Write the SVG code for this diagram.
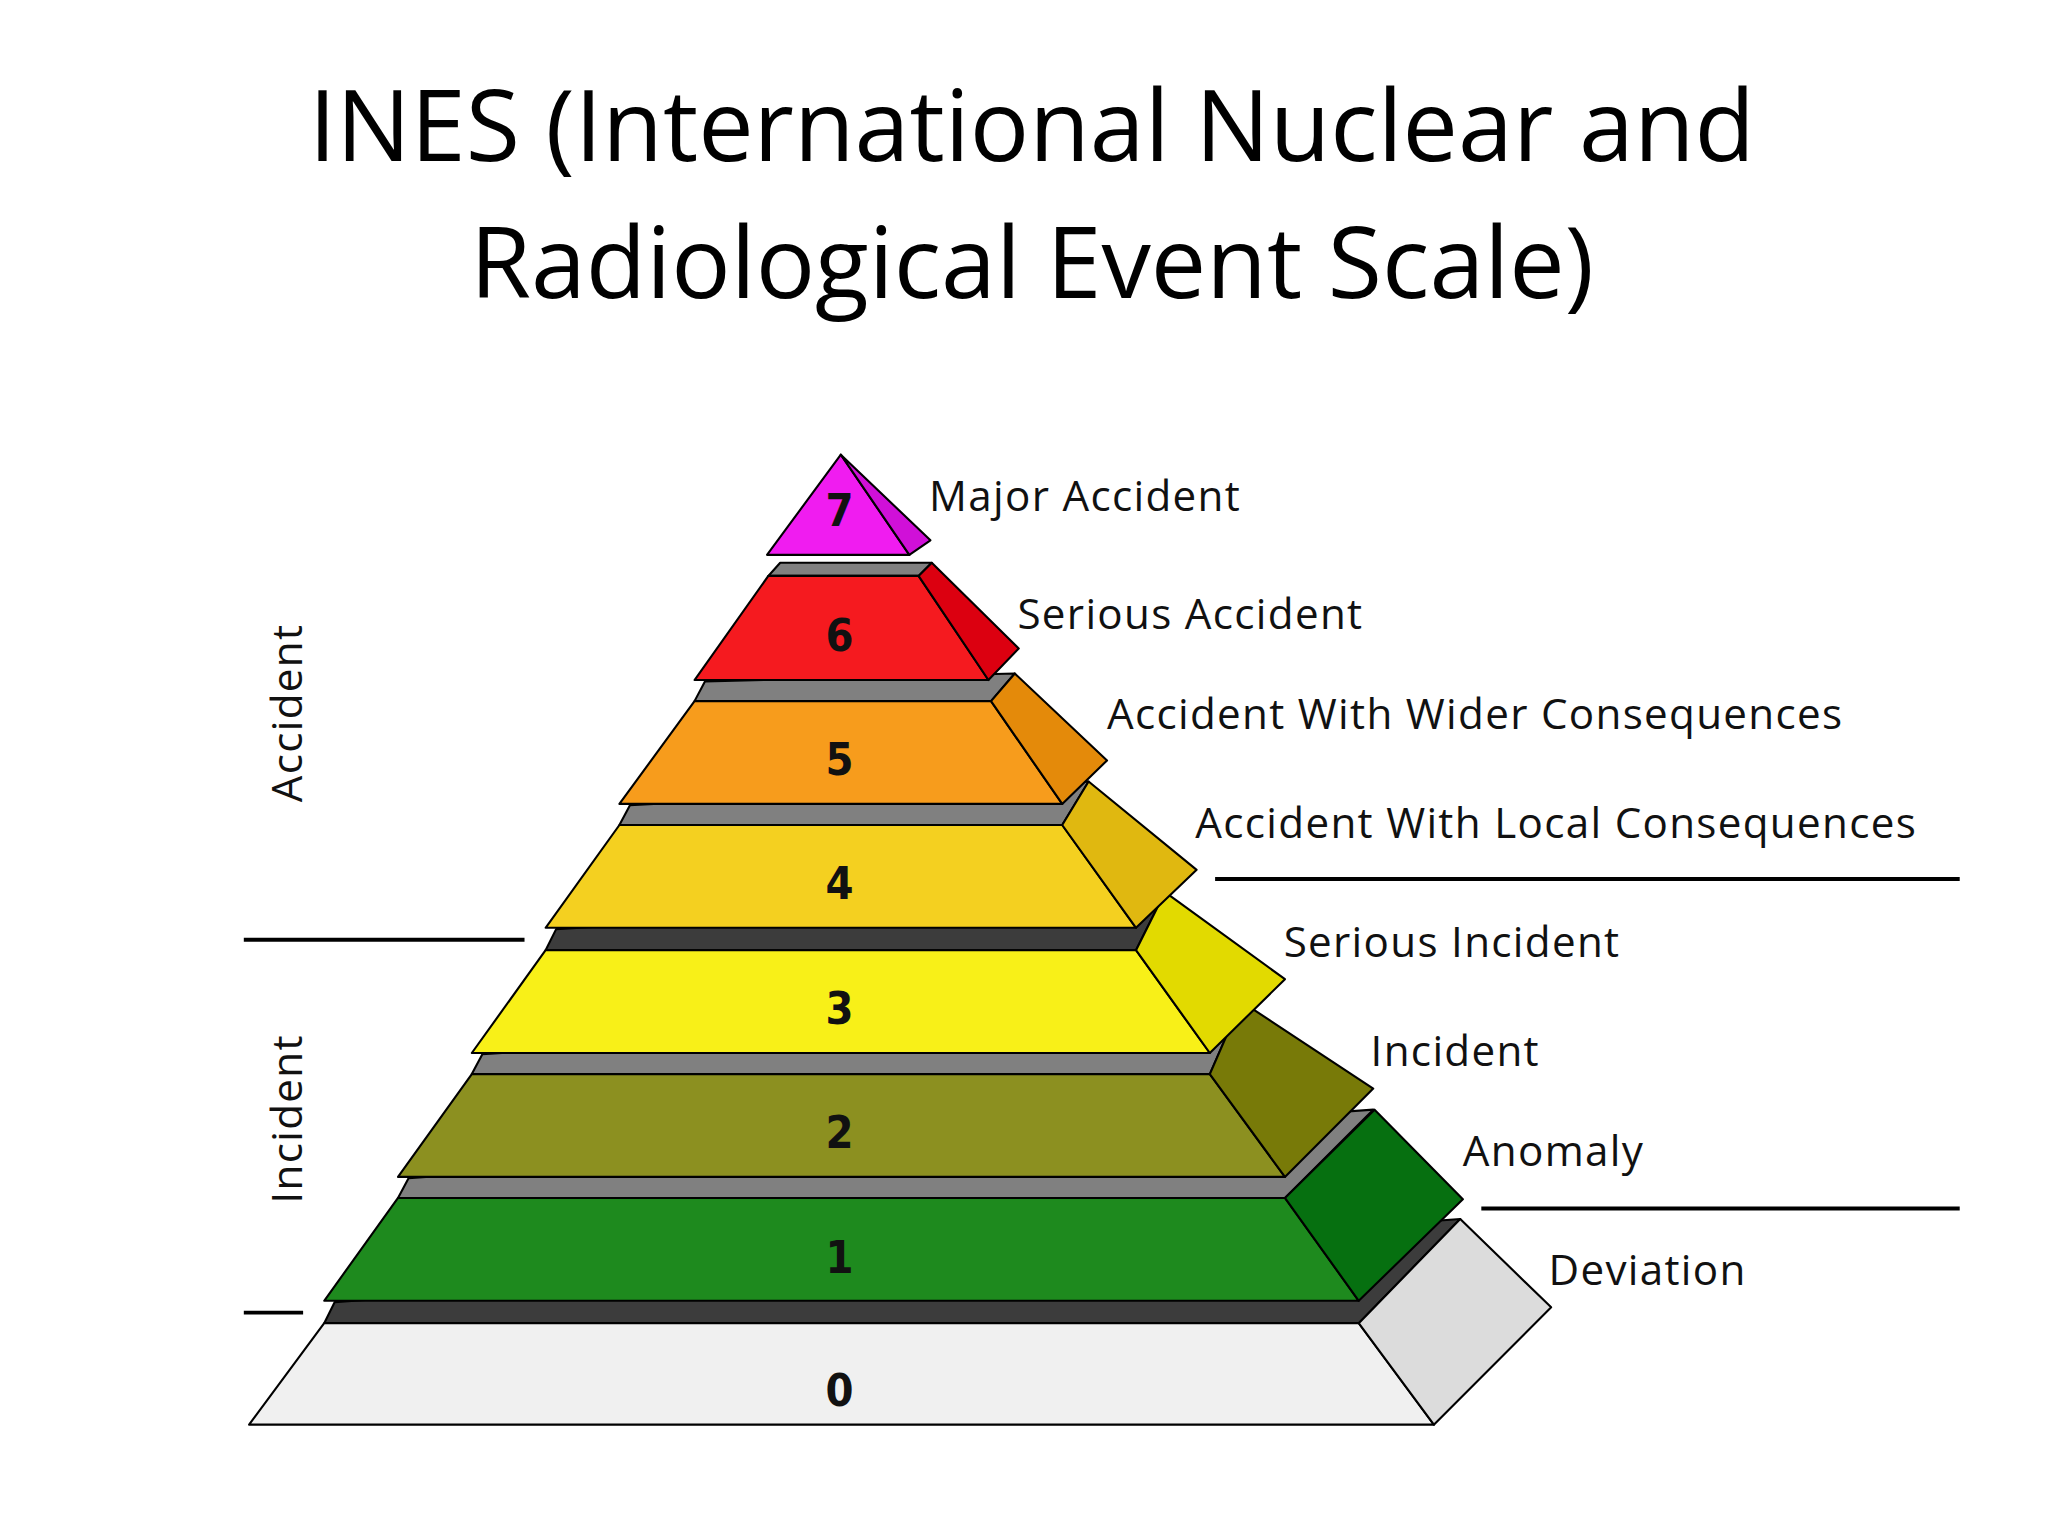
<svg xmlns="http://www.w3.org/2000/svg" width="2048" height="1536" viewBox="0 0 2048 1536">
<style>
.e{stroke:#000;stroke-width:1.6;stroke-linejoin:round}
.g{fill:#808080}.d{fill:#3c3c3c}
.n{font-family:"DejaVu Sans Condensed","Liberation Sans Narrow",sans-serif;font-size:34px;font-weight:bold;text-anchor:middle;fill:#111}
.l{font-family:"Open Sans","Noto Sans",sans-serif;font-size:32px;letter-spacing:1px;fill:#111}
.t{font-family:"Open Sans","Noto Sans",sans-serif;font-size:75px;text-anchor:middle;fill:#000}
</style>
<rect width="2048" height="1536" fill="#fff"/>
<g transform="scale(1.3179)">
<g id="title"><text class="t" x="783" y="122">INES (International Nuclear and</text><text class="t" x="783" y="226">Radiological Event Scale)</text></g>
<g id="level0"><polygon class="e d" points="246,1004 254,988 1108,925 1031,1004"/><polygon class="e" fill="#f0f0f0" points="246,1004 1031,1004 1088,1081 189,1081"/><polygon class="e" fill="#dcdcdc" points="1031,1004 1108,925 1177,992 1088,1081"/><text class="n" x="637" y="1067">0</text></g>
<g id="level1"><polygon class="e g" points="302,909 310,894 1042,842 975,909"/><polygon class="e" fill="#1e8a1e" points="302,909 975,909 1031,987 246,987"/><polygon class="e" fill="#067010" points="975,909 1043,842 1110,910 1031,987"/><text class="n" x="637" y="966">1</text></g>
<g id="level2"><polygon class="e g" points="358,815 366,800 942,760 918,815"/><polygon class="e" fill="#8c9020" points="358,815 918,815 975,893 302,893"/><polygon class="e" fill="#787a08" points="918,815 942,760 1042,826 975,893"/><text class="n" x="637" y="871">2</text></g>
<g id="level3"><polygon class="e d" points="414,721 422,705 884,677 862,721"/><polygon class="e" fill="#f8f018" points="414,721 862,721 918,799 358,799"/><polygon class="e" fill="#e2da00" points="862,721 884,677 975,743 918,799"/><text class="n" x="637" y="777">3</text></g>
<g id="level4"><polygon class="e g" points="470,626 478,611 826,593 806,626"/><polygon class="e" fill="#f4d020" points="470,626 806,626 862,704 414,704"/><polygon class="e" fill="#e0b810" points="806,626 826,593 908,660 862,704"/><text class="n" x="637" y="682">4</text></g>
<g id="level5"><polygon class="e g" points="527,532 535,517 770,511 752,532"/><polygon class="e" fill="#f79c1c" points="527,532 752,532 806,610 470,610"/><polygon class="e" fill="#e48a0a" points="752,532 770,511 840,577 806,610"/><text class="n" x="637" y="588">5</text></g>
<g id="level6"><polygon class="e g" points="583,437 592,427 707,427 697,437"/><polygon class="e" fill="#f51a1f" points="583,437 697,437 750,516 527,516"/><polygon class="e" fill="#dc0010" points="697,437 707,427 773,492 750,516"/><text class="n" x="637" y="494">6</text></g>
<g id="level7"><polygon class="e" fill="#f01cf0" points="638,345 690,421 582,421"/><polygon class="e" fill="#d010d8" points="638,345 706,410 690,421"/><text class="n" x="637" y="399">7</text></g>
<g id="connectors" stroke="#000" stroke-width="3"><line x1="922" y1="667" x2="1487" y2="667"/><line x1="1124" y1="917" x2="1487" y2="917"/><line x1="185" y1="713" x2="398" y2="713"/><line x1="185" y1="996" x2="230" y2="996"/></g>
<g id="labels">
<text class="l" x="705" y="388">Major Accident</text>
<text class="l" x="772" y="477">Serious Accident</text>
<text class="l" x="840" y="553">Accident With Wider Consequences</text>
<text class="l" x="907" y="636">Accident With Local Consequences</text>
<text class="l" x="974" y="726">Serious Incident</text>
<text class="l" x="1040" y="809">Incident</text>
<text class="l" x="1110" y="885">Anomaly</text>
<text class="l" x="1175" y="975">Deviation</text>
<text class="l" text-anchor="middle" transform="translate(229,541) rotate(-90)">Accident</text>
<text class="l" text-anchor="middle" transform="translate(229,849) rotate(-90)">Incident</text>
</g>
</g>
</svg>
